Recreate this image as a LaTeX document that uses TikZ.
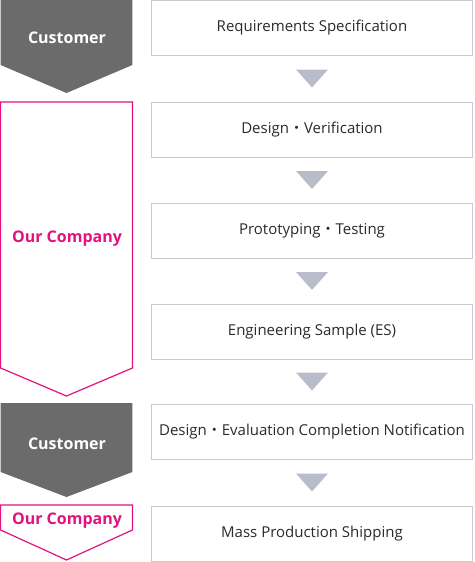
\documentclass[tikz,border=0pt]{standalone}
\usepackage{fontspec}
\setmainfont{Open Sans}
\newfontfamily\cjk{Noto Sans CJK JP}
\usetikzlibrary{calc}
\definecolor{custGrey}{HTML}{6B6B6B}
\definecolor{ourPink}{HTML}{E2137E}
\definecolor{stepLine}{HTML}{C9CBD3}
\definecolor{stepText}{HTML}{2B2B2B}
\definecolor{triGrey}{HTML}{B9BDC9}
\tikzset{
  stepbox/.style={rectangle, draw=stepLine, fill=white, line width=1pt, minimum width=321pt, minimum height=55pt, font=\fontsize{15}{17}\selectfont, text=stepText, inner sep=0pt},
  downtri/.style={fill=triGrey},
  custflag/.style={fill=custGrey},
  ourflag/.style={draw=ourPink, fill=white, line width=1.2pt},
  custlabel/.style={font=\fontsize{16}{18}\selectfont\bfseries, text=white},
  ourlabel/.style={font=\fontsize{16}{18}\selectfont\bfseries, text=ourPink},
}
\newcommand{\mdot}{{\cjk ・}}

\begin{document}
\begin{tikzpicture}[x=1pt,y=-1pt]
  \useasboundingbox (0,0) rectangle (474,562);

  % who does what
  \foreach \top/\bot/\tip/\sty/\ly/\nm/\lab in {-2/65/93/cust/38/cust1/Customer, 102/368/396/our/239/our1/Our Company, 403/472/497/cust/444/cust2/Customer, 505/530/560/our/521/our2/Our Company} {
    \path[\sty flag] (0.6,\top) -- (132.4,\top) -- (132.4,\bot) -- (66.5,\tip) -- (0.6,\bot) -- cycle;
    \node[\sty label] (\nm) at (67,\ly) {\lab};
  }

  % steps
  \node[stepbox] (req) at (312,27.5) {Requirements Specification};
  \node[stepbox] (dv) at (312,129.5) {Design\mdot Verification};
  \node[stepbox] (proto) at (312,230.5) {Prototyping\mdot Testing};
  \node[stepbox] (es) at (312,331.5) {Engineering Sample (ES)};
  \node[stepbox] (notify) at (312,431.5) {Design\mdot Evaluation Completion Notification};
  \node[stepbox] (ship) at (312,533.5) {Mass Production Shipping};

  \foreach \a/\b in {req/dv, dv/proto, proto/es, es/notify, notify/ship} { \fill[downtri] ($(\a.south)!0.5!(\b.north)$) +(-16,-9) -- +(16,-9) -- +(0,9) -- cycle; }
\end{tikzpicture}
\end{document}
